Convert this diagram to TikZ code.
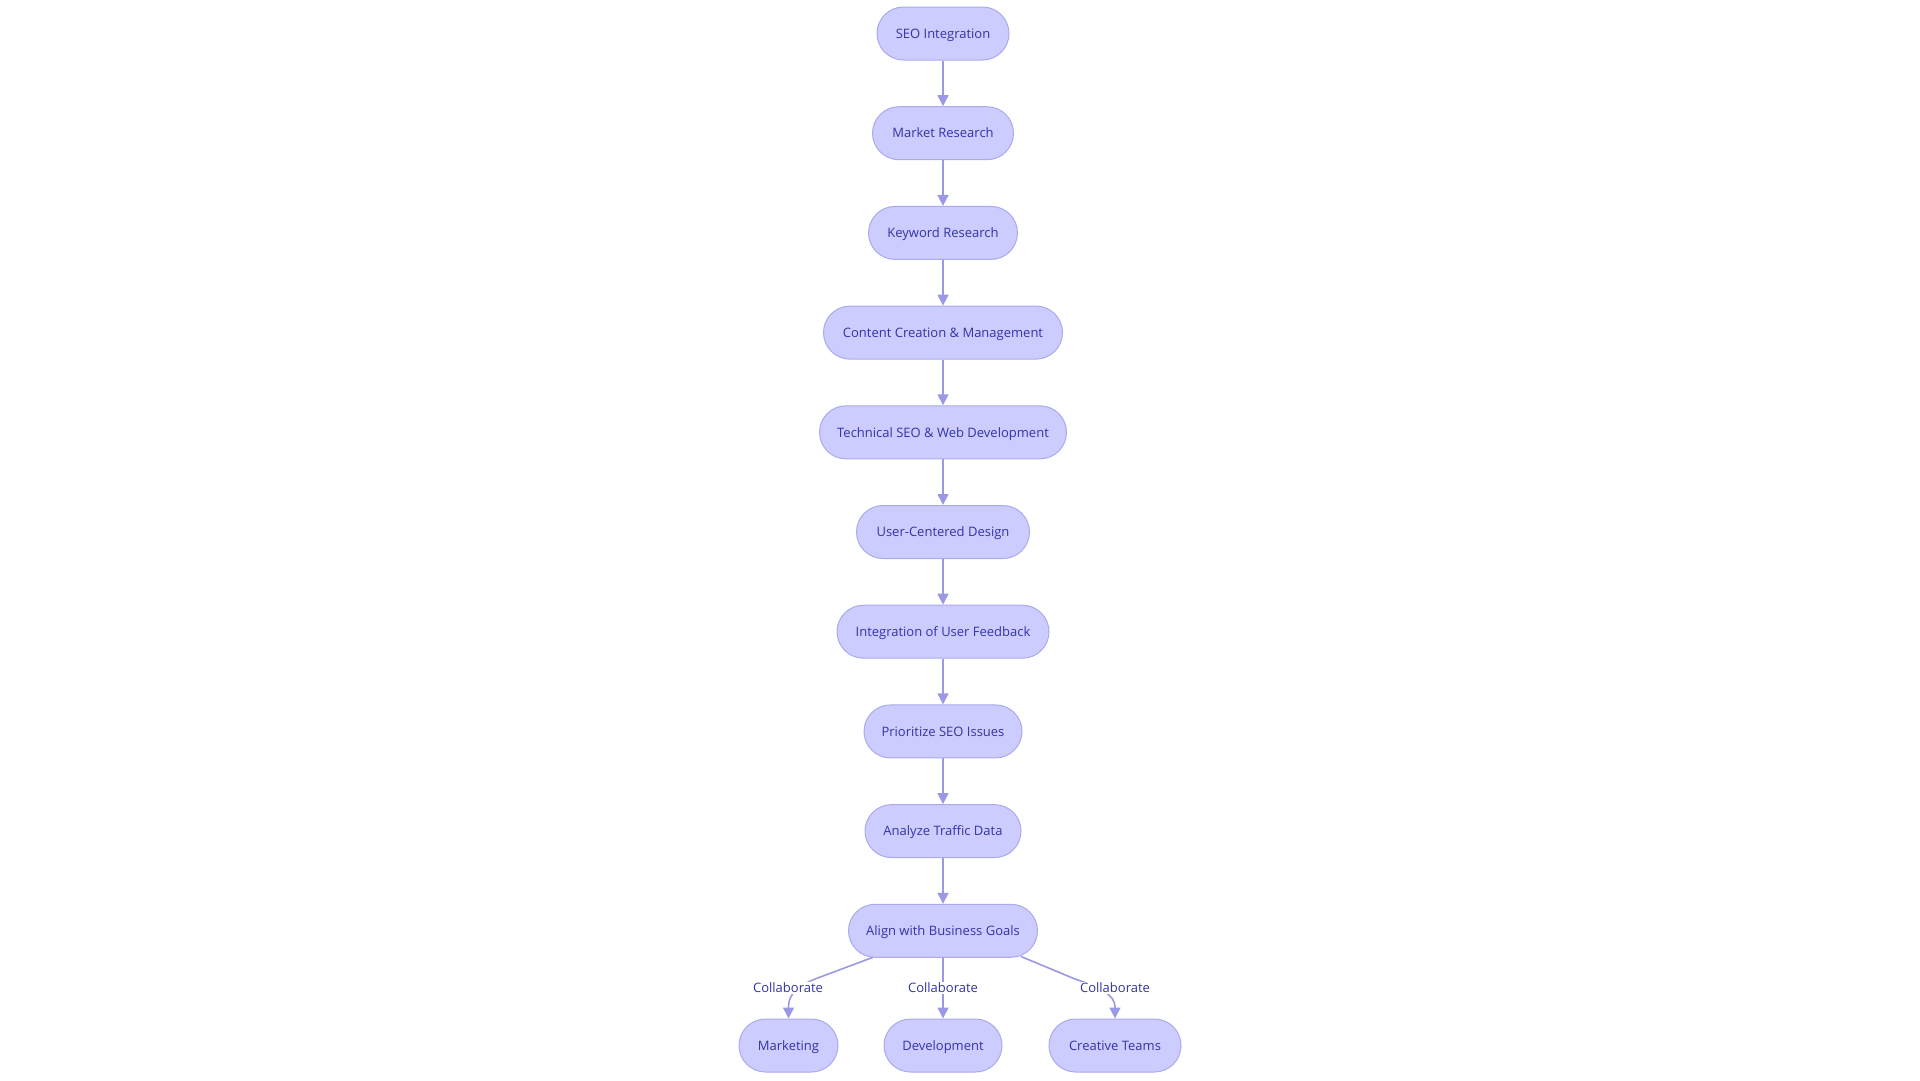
\documentclass[tikz,border=0pt]{standalone}
\usepackage{fontspec}
\setmainfont{Open Sans}
\usetikzlibrary{arrows.meta,calc}
\definecolor{nodefill}{RGB}{204,204,255}
\definecolor{nodedraw}{RGB}{170,170,236}
\definecolor{txt}{RGB}{52,52,166}
\definecolor{edge}{RGB}{153,153,230}
\tikzset{
  x=1pt,y=1pt,
  box/.style={draw=nodedraw,fill=nodefill,line width=1pt,rounded corners=26.5pt,
    minimum height=53pt,inner xsep=0pt,text height=11pt,text depth=1.5pt,
    text=txt,font=\fontsize{13}{16}\selectfont},
  conn/.style={draw=edge,line width=1.6pt,-{Triangle[length=11pt,width=11pt]}},
  lbl/.style={fill=white,text=txt,inner sep=1pt,font=\fontsize{13}{16}\selectfont}
}
\begin{document}
\begin{tikzpicture}
\useasboundingbox (0,0) rectangle (1920,-1080);
\node[box,minimum width=132pt] (n1) at (943,-33.5) {SEO Integration};
\node[box,minimum width=141pt] (n2) at (943,-133.2) {Market Research};
\node[box,minimum width=149pt] (n3) at (943,-232.9) {Keyword Research};
\node[box,minimum width=239pt] (n4) at (943,-332.6) {Content Creation \& Management};
\node[box,minimum width=247pt] (n5) at (943,-432.3) {Technical SEO \& Web Development};
\node[box,minimum width=173pt] (n6) at (943,-532.0) {User-Centered Design};
\node[box,minimum width=212pt] (n7) at (943,-631.7) {Integration of User Feedback};
\node[box,minimum width=158pt] (n8) at (943,-731.4) {Prioritize SEO Issues};
\node[box,minimum width=156pt] (n9) at (943,-831.1) {Analyze Traffic Data};
\node[box,minimum width=189pt] (n10) at (943,-930.8) {Align with Business Goals};
\node[box,minimum width=99pt] (m) at (788.5,-1045.5) {Marketing};
\node[box,minimum width=118pt] (d) at (943,-1045.5) {Development};
\node[box,minimum width=132pt] (c) at (1115,-1045.5) {Creative Teams};
\foreach \a/\b in {n1/n2,n2/n3,n3/n4,n4/n5,n5/n6,n6/n7,n7/n8,n8/n9,n9/n10}
  \draw[conn] (\a) -- (\b);
\coordinate (ls) at (873,-957.3);
\coordinate (rs) at (1021,-956.5);
\draw[conn] (ls) -- (815,-979) .. controls (790,-989) and (788.5,-1000) .. (m.north);
\draw[conn] (n10) -- (d);
\draw[conn] (rs) -- (1075,-979) .. controls (1112,-991) and (1115,-1000) .. (c.north);
\node[lbl] (l1) at (788,-988) {Collaborate};
\node[lbl] (l2) at (943,-988) {Collaborate};
\node[lbl] (l3) at (1115,-988) {Collaborate};
\end{tikzpicture}
\end{document}
